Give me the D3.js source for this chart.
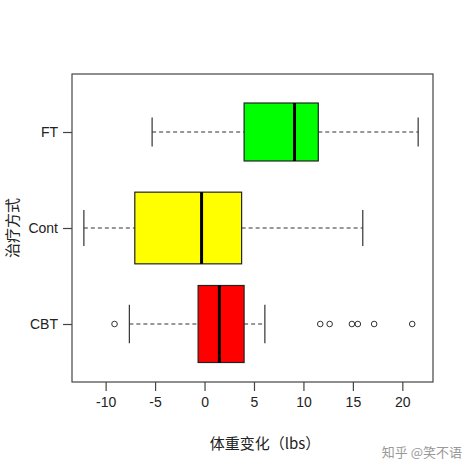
<!DOCTYPE html>
<html>
<head>
<meta charset="utf-8">
<script src="https://d3js.org/d3.v7.min.js"></script>
<style>
  body { margin: 0; background: white; }
  text { font-family: "Liberation Sans", Arial, sans-serif; }
</style>
</head>
<body>
<svg id="chart" width="474" height="470"></svg>
<script>
// data
const groups = ["CBT", "Cont", "FT"];
const groupN = [60, 52, 34];
const colors = ["#ff0000", "#ffff00", "#00ff00"];
const whiskerLo = [-7.6, -12.2, -5.3];
const q1 = [-0.65, -7.05, 4.0];
const median = [1.5, -0.3, 9.1];
const q3 = [4.0, 3.75, 11.5];
const whiskerHi = [6.1, 16.0, 21.6];
const outliers = [[-9.1, 11.7, 12.65, 14.9, 15.5, 17.15, 21.0], [], []];
const xTicks = [-10, -5, 0, 5, 10, 15, 20];

const svg = d3.select("#chart");
const margin = { top: 74, right: 41, bottom: 88, left: 72 };
const W = 474 - margin.left - margin.right;
const H = 470 - margin.top - margin.bottom;
const g = svg.append("g").attr("transform", "translate(" + margin.left + "," + margin.top + ")");

const x = d3.scaleLinear().domain([-13.4, 23.1]).range([0, W]);
const y = d3.scalePoint().domain(groups).range([H - 58, 58]);
const bw = d3.scaleSqrt().domain([0, d3.max(groupN)]).range([0, 77 * Math.sqrt(d3.max(groupN) / 60)]);

groups.forEach((grp, i) => {
  const cy = y(grp);
  const h = bw(groupN[i]);
  const row = g.append("g");
  // whiskers
  row.append("line").attr("x1", x(whiskerLo[i])).attr("x2", x(q1[i])).attr("y1", cy).attr("y2", cy)
     .attr("stroke", "#333").attr("stroke-width", 1.2).attr("stroke-dasharray", "4,3");
  row.append("line").attr("x1", x(q3[i])).attr("x2", x(whiskerHi[i])).attr("y1", cy).attr("y2", cy)
     .attr("stroke", "#333").attr("stroke-width", 1.2).attr("stroke-dasharray", "4,3");
  [whiskerLo[i], whiskerHi[i]].forEach(v => {
    row.append("line").attr("x1", x(v)).attr("x2", x(v)).attr("y1", cy - h / 4).attr("y2", cy + h / 4)
       .attr("stroke", "#333").attr("stroke-width", 1.2);
  });
  row.append("rect").attr("x", x(q1[i])).attr("width", x(q3[i]) - x(q1[i]))
     .attr("y", cy - h / 2).attr("height", h)
     .attr("fill", colors[i]).attr("stroke", "#222").attr("stroke-width", 1.2);
  row.append("line").attr("x1", x(median[i])).attr("x2", x(median[i])).attr("y1", cy - h / 2).attr("y2", cy + h / 2)
     .attr("stroke", "#000").attr("stroke-width", 3);
  row.selectAll("circle").data(outliers[i]).join("circle")
     .attr("cx", d => x(d)).attr("cy", cy).attr("r", 2.8)
     .attr("fill", "none").attr("stroke", "#333").attr("stroke-width", 1);
});

// frame
g.append("rect").attr("width", W).attr("height", H).attr("fill", "none").attr("stroke", "#444").attr("stroke-width", 1.2);

// axes
const xa = g.append("g").attr("transform", "translate(0," + H + ")")
  .call(d3.axisBottom(x).tickValues(xTicks).tickFormat(d => String(d)).tickSize(9).tickPadding(6));
const ya = g.append("g").call(d3.axisLeft(y).tickSize(9).tickPadding(5));
[xa, ya].forEach(a => {
  a.select(".domain").remove();
  a.selectAll("line").attr("stroke", "#444").attr("stroke-width", 1.2);
  a.selectAll("text").attr("font-size", 14).attr("fill", "#222").style("font-family", "Liberation Sans, Arial, sans-serif");
});

svg.append("text").attr("x", 265).attr("y", 449).attr("text-anchor", "middle")
   .attr("font-size", 15).attr("fill", "#222").style("font-family", "Noto Sans CJK SC")
   .text("体重变化（lbs）");
svg.append("text").attr("transform", "translate(18,228) rotate(-90)").attr("text-anchor", "middle")
   .attr("font-size", 15).attr("fill", "#222").style("font-family", "Noto Sans CJK SC")
   .text("治疗方式");
svg.append("text").attr("x", 462).attr("y", 457).attr("text-anchor", "end")
   .attr("font-size", 13).attr("fill", "#999").style("font-family", "Noto Sans CJK SC")
   .text("知乎 @笑不语");
</script>
</body>
</html>
